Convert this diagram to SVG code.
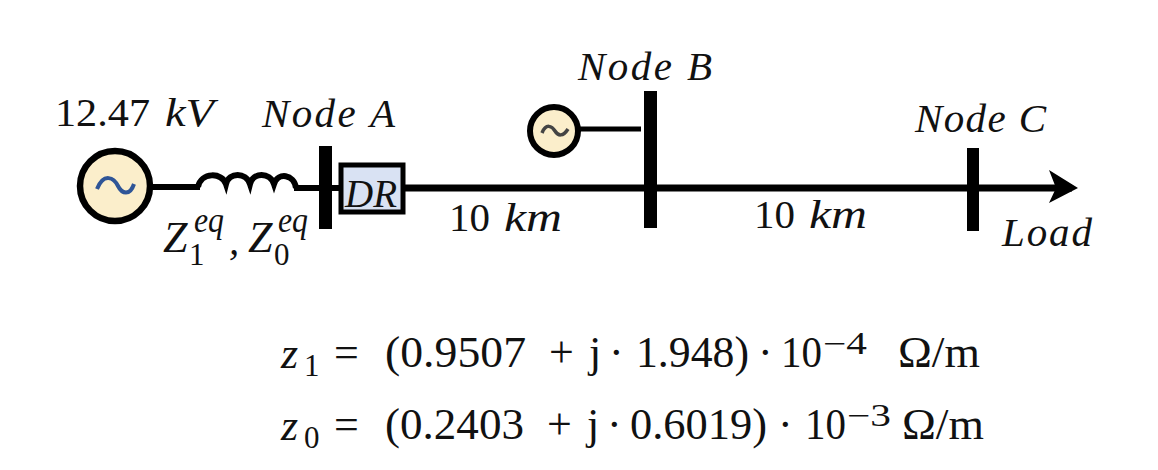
<svg xmlns="http://www.w3.org/2000/svg" width="1158" height="470" viewBox="0 0 1158 470">
<style>
text{font-family:"Liberation Serif","DejaVu Serif",serif;fill:#111}
.i{font-style:italic;font-size:41px}
.r{font-size:41px}
.n{font-size:31px}
.e{font-size:44px}
.src{stroke:#000;fill:#fbeecb}
.w{fill:none;stroke:#000;stroke-linecap:butt}
.bus{fill:#000}
</style>
<rect width="1158" height="470" fill="#fff"/>
<g id="connectors">
<path class="w" stroke-width="6" d="M150 187H200"/>
<path class="w" stroke-width="6" d="M198 187C201 172 222 172 226 184C229 172 246 172 250 184C253 172 270 172 274 184C278 172 294 174 296 188"/>
<path class="w" stroke-width="6" d="M294 188H340"/>
<path class="w" stroke-width="7" d="M404 188H1072"/>
<path class="w" stroke-width="5" d="M578 129H641"/>
<path d="M1049 170L1078 188L1049 203L1056 188Z" fill="#000"/>
</g>
<g id="source-main">
<circle class="src" cx="115" cy="186" r="35" stroke-width="6.500"/>
<path d="M97 189C104 172 114 178 118 186C122 194 130 196 134 184" fill="none" stroke="#2f5597" stroke-width="4"/>
<text class="r" x="55" y="126" textLength="95" lengthAdjust="spacingAndGlyphs">12.47</text>
<text class="i" x="165" y="126" textLength="49" lengthAdjust="spacingAndGlyphs">kV</text>
</g>
<g id="impedance">
<text x="163" y="252" style="font-size:44px;font-style:italic">Z</text>
<text class="i" x="194" y="232" textLength="30" lengthAdjust="spacingAndGlyphs" style="font-size:36px">eq</text>
<text x="189" y="265" class="n">1</text>
<text class="i" x="229" y="254">,</text>
<text x="248" y="252" style="font-size:44px;font-style:italic">Z</text>
<text class="i" x="278" y="232" textLength="30" lengthAdjust="spacingAndGlyphs" style="font-size:36px">eq</text>
<text x="274" y="265" class="n">0</text>
</g>
<g id="node-a">
<rect class="bus" x="319" y="146" width="13" height="83"/>
<text class="i" x="262" y="127" textLength="133">Node A</text>
</g>
<g id="dr">
<rect x="341" y="165" width="62" height="47" fill="#d9e2f3" stroke="#000" stroke-width="5"/>
<text class="i" x="345" y="207" textLength="52" lengthAdjust="spacingAndGlyphs">DR</text>
</g>
<g id="source-b">
<circle class="src" cx="554" cy="131" r="24" stroke-width="6"/>
<path d="M542 133C546 123 552 126 555 131C558 136 563 137 568 129" fill="none" stroke="#444" stroke-width="3.500"/>
</g>
<g id="node-b">
<rect class="bus" x="644" y="91" width="13" height="137"/>
<text class="i" x="578" y="80" textLength="134">Node B</text>
</g>
<g id="node-c">
<rect class="bus" x="967" y="148" width="12" height="83"/>
<text class="i" x="915" y="132" textLength="131">Node C</text>
</g>
<g id="labels">
<text class="r" x="449" y="231" textLength="41">10</text>
<text class="i" x="504" y="231" textLength="58" lengthAdjust="spacingAndGlyphs">km</text>
<text class="r" x="754" y="228" textLength="41">10</text>
<text class="i" x="809" y="228" textLength="58" lengthAdjust="spacingAndGlyphs">km</text>
<text class="i" x="1002" y="246" textLength="90">Load</text>
</g>
<g id="equations">
<text class="e" x="281" y="368" font-style="italic">z</text>
<text x="304" y="376" class="n">1</text>
<text class="e" x="334" y="367">=</text>
<text class="e" x="385" y="367" textLength="141" lengthAdjust="spacingAndGlyphs">(0.9507</text>
<text class="e" x="549" y="367">+</text>
<text class="e" x="589" y="367">j</text>
<text class="e" x="609" y="367">·</text>
<text class="e" x="636" y="367" textLength="113" lengthAdjust="spacingAndGlyphs">1.948)</text>
<text class="e" x="758" y="367">·</text>
<text class="e" x="781" y="367" textLength="41" lengthAdjust="spacingAndGlyphs">10</text>
<text class="n" x="823" y="354" textLength="44" lengthAdjust="spacingAndGlyphs">−4</text>
<text class="e" x="898" y="367" textLength="82" lengthAdjust="spacingAndGlyphs">Ω/m</text>
<text class="e" x="281" y="440" font-style="italic">z</text>
<text x="304" y="448" class="n">0</text>
<text class="e" x="334" y="439">=</text>
<text class="e" x="385" y="439" textLength="139" lengthAdjust="spacingAndGlyphs">(0.2403</text>
<text class="e" x="547" y="439">+</text>
<text class="e" x="587" y="439">j</text>
<text class="e" x="607" y="439">·</text>
<text class="e" x="630" y="439" textLength="137" lengthAdjust="spacingAndGlyphs">0.6019)</text>
<text class="e" x="778" y="439">·</text>
<text class="e" x="805" y="439" textLength="41" lengthAdjust="spacingAndGlyphs">10</text>
<text class="n" x="847" y="426" textLength="44" lengthAdjust="spacingAndGlyphs">−3</text>
<text class="e" x="902" y="439" textLength="82" lengthAdjust="spacingAndGlyphs">Ω/m</text>
</g>
</svg>
